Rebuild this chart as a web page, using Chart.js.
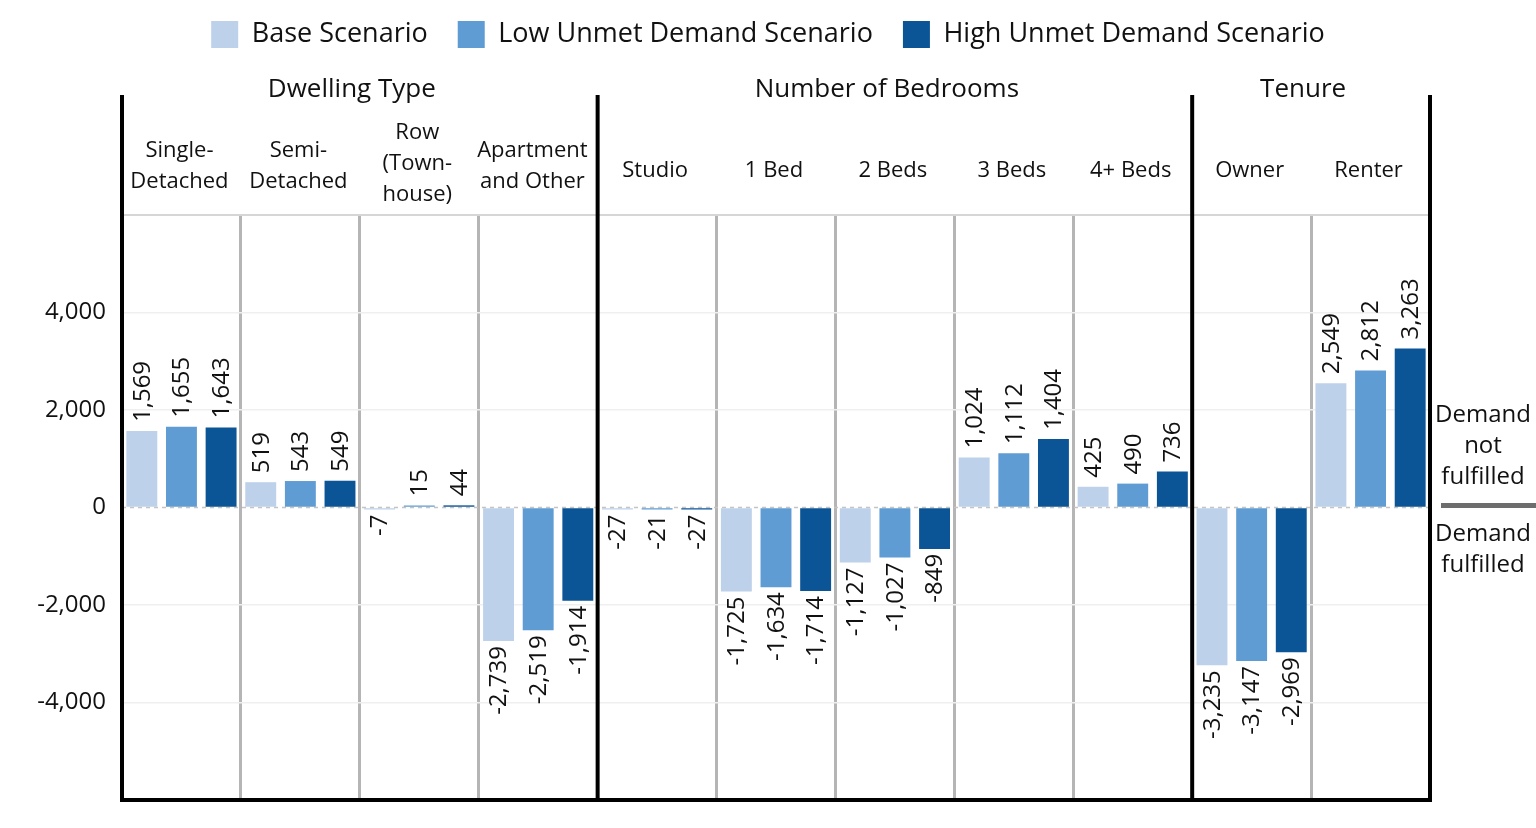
<!DOCTYPE html>
<html>
<head>
<meta charset="utf-8">
<script src="https://cdn.jsdelivr.net/npm/chart.js@4.4.1/dist/chart.umd.min.js"></script>
<style>
  html, body { margin: 0; padding: 0; background: #fff; }
  #wrap { width: 1536px; height: 828px; }
</style>
</head>
<body>
<div id="wrap"><canvas id="chart" width="1536" height="828"></canvas></div>
<script>
// data
const categories = [['Single-', 'Detached'], ['Semi-', 'Detached'], ['Row', '(Town-', 'house)'], ['Apartment', 'and Other'],
  ['Studio'], ['1 Bed'], ['2 Beds'], ['3 Beds'], ['4+ Beds'], ['Owner'], ['Renter']];
const groupNames = ['Dwelling Type', 'Number of Bedrooms', 'Tenure'];
const groupSizes = [4, 5, 2];
const seriesNames = ['Base Scenario', 'Low Unmet Demand Scenario', 'High Unmet Demand Scenario'];
const baseValues = [1569, 519, -7, -2739, -27, -1725, -1127, 1024, 425, -3235, 2549];
const lowValues = [1655, 543, 15, -2519, -21, -1634, -1027, 1112, 490, -3147, 2812];
const highValues = [1643, 549, 44, -1914, -27, -1714, -849, 1404, 736, -2969, 3263];
const yTicks = [-4000, -2000, 0, 2000, 4000];
const sideLabels = [['Demand', 'not', 'fulfilled'], ['Demand', 'fulfilled']];

const colors = ['#bdd1ea', '#5e9cd3', '#0b5597'];
const FONT = "'Open Sans', 'Noto Sans', sans-serif";
const PLOT_TOP = 215;
const PAD_TOP = -9;

Chart.defaults.font.family = FONT;
Chart.defaults.color = '#111';

// indices of grid lines that sit on a group boundary (drawn black)
const boundaries = [0];
groupSizes.forEach(n => boundaries.push(boundaries[boundaries.length - 1] + n));

function fmt(v) { return v.toLocaleString('en-US'); }

const overlay = {
  id: 'overlay',
  beforeDatasetsDraw(chart) {
    const {ctx, chartArea} = chart;
    const y0 = chart.scales.y.getPixelForValue(0);
    ctx.save();
    ctx.strokeStyle = '#c4c4c4';
    ctx.lineWidth = 1.5;
    ctx.setLineDash([4, 4]);
    ctx.beginPath();
    ctx.moveTo(chartArea.left, y0);
    ctx.lineTo(chartArea.right, y0);
    ctx.stroke();
    ctx.restore();
  },
  afterDatasetsDraw(chart) {
    const {ctx} = chart;
    ctx.save();
    ctx.font = '24px ' + FONT;
    ctx.fillStyle = '#111';
    ctx.textBaseline = 'middle';
    chart.data.datasets.forEach((ds, di) => {
      chart.getDatasetMeta(di).data.forEach((bar, i) => {
        const v = ds.data[i];
        ctx.save();
        ctx.translate(bar.x, bar.y);
        ctx.rotate(-Math.PI / 2);
        if (v >= 0) {
          ctx.textAlign = 'left';
          ctx.fillText(fmt(v), 9, 1);
        } else {
          ctx.textAlign = 'right';
          ctx.fillText(fmt(v), -5, 1);
        }
        ctx.restore();
      });
    });
    ctx.restore();
  },
  afterDraw(chart) {
    const {ctx, chartArea, width} = chart;
    const x = chart.scales.x;
    const y0 = chart.scales.y.getPixelForValue(0);
    const edge = k => {
      if (k === 0) return chartArea.left;
      if (k === categories.length) return chartArea.right;
      return (x.getPixelForTick(k - 1) + x.getPixelForTick(k)) / 2;
    };
    ctx.save();
    // black group dividers and bottom rule
    ctx.strokeStyle = '#000';
    ctx.lineWidth = 4;
    boundaries.forEach(k => {
      const px = edge(k);
      ctx.beginPath();
      ctx.moveTo(px, chartArea.top - 120);
      ctx.lineTo(px, chartArea.bottom + 2);
      ctx.stroke();
    });
    ctx.beginPath();
    ctx.moveTo(chartArea.left - 2, chartArea.bottom);
    ctx.lineTo(chartArea.right + 2, chartArea.bottom);
    ctx.stroke();

    // group titles
    ctx.fillStyle = '#111';
    ctx.textAlign = 'center';
    ctx.textBaseline = 'middle';
    ctx.font = '26px ' + FONT;
    groupNames.forEach((g, gi) => {
      const cx = (edge(boundaries[gi]) + edge(boundaries[gi + 1])) / 2 - 8;
      ctx.fillText(g, cx, chartArea.top - 125);
    });

    // category labels
    ctx.font = '22px ' + FONT;
    const lh = 31;
    categories.forEach((lines, i) => {
      let cx = x.getPixelForTick(i) - 2;
      // keep wide labels clear of the right divider
      const w = Math.max(...lines.map(t => ctx.measureText(t).width));
      cx = Math.min(cx, edge(i + 1) - 10 - w / 2);
      const mid = lines.length === 1 ? -44 : lines.length === 2 ? -49 : -51;
      const start = chartArea.top + mid - (lines.length - 1) * lh / 2;
      lines.forEach((t, j) => ctx.fillText(t, cx, start + j * lh));
    });

    // right side note
    const sx = (chartArea.right + width) / 2;
    ctx.font = '24px ' + FONT;
    sideLabels[0].forEach((t, j) => ctx.fillText(t, sx, y0 - 92 + j * 31));
    sideLabels[1].forEach((t, j) => ctx.fillText(t, sx, y0 + 27 + j * 31));
    ctx.strokeStyle = '#6d6d6d';
    ctx.lineWidth = 5;
    ctx.beginPath();
    ctx.moveTo(chartArea.right + 11, y0 - 2);
    ctx.lineTo(width, y0 - 2);
    ctx.stroke();
    ctx.restore();
  }
};

const datasets = [baseValues, lowValues, highValues].map((vals, i) => ({
  label: seriesNames[i],
  data: vals,
  backgroundColor: colors[i],
  borderWidth: 0,
  minBarLength: 2,
  categoryPercentage: 1.0,
  barPercentage: 0.78
}));

new Chart(document.getElementById('chart'), {
  type: 'bar',
  data: { labels: categories.map(c => c.join(' ')), datasets },
  plugins: [overlay],
  options: {
    responsive: false,
    animation: false,
    devicePixelRatio: 1,
    layout: { padding: { top: PAD_TOP, bottom: 28, left: 0, right: 0 } },
    plugins: {
      legend: {
        position: 'top',
        labels: {
          boxWidth: 27,
          boxHeight: 27,
          padding: 30,
          color: '#111',
          font: { size: 27, family: FONT }
        }
      },
      tooltip: { enabled: false }
    },
    scales: {
      x: {
        position: 'top',
        ticks: { display: false },
        grid: {
          offset: true,
          drawTicks: false,
          lineWidth: 3,
          color: c => boundaries.includes(c.index) ? 'rgba(0,0,0,0)' : '#b5b5b5'
        },
        border: { display: true, color: '#d6d6d6', width: 2 },
        afterFit(scale) {
          const lg = scale.chart.legend;
          const lgH = lg && lg.height ? lg.height : 0;
          scale.height = PLOT_TOP - PAD_TOP - lgH;
        }
      },
      y: {
        min: -6000,
        max: 6000,
        afterBuildTicks(scale) { scale.ticks = yTicks.map(v => ({ value: v })); },
        ticks: {
          padding: 16,
          font: { size: 24, family: FONT },
          color: '#111',
          callback: v => fmt(v)
        },
        grid: {
          drawTicks: false,
          lineWidth: 1.5,
          color: c => (c.tick && c.tick.value === 0) ? 'rgba(0,0,0,0)' : '#efefef'
        },
        border: { display: false },
        afterFit(scale) {
          scale.width = 122;
          scale.paddingTop = 0;
          scale.paddingBottom = 0;
        }
      },
      y2: {
        position: 'right',
        min: -6000,
        max: 6000,
        ticks: { display: false },
        grid: { display: false },
        border: { display: false },
        afterFit(scale) {
          scale.width = 106;
          scale.paddingTop = 0;
          scale.paddingBottom = 0;
        }
      }
    }
  }
});
</script>
</body>
</html>
